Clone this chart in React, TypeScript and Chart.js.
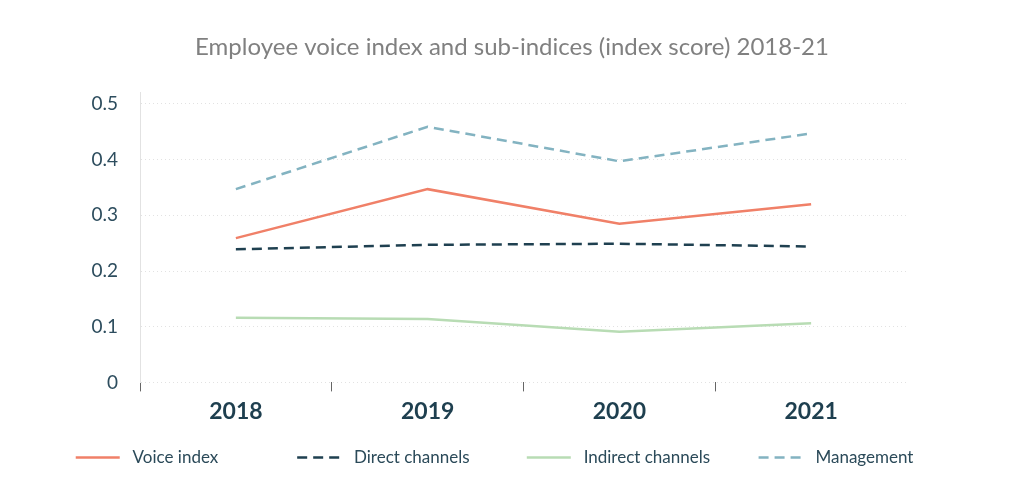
import React, { useEffect, useRef } from "react";
import { Chart, registerables } from "chart.js";

Chart.register(...registerables);

const categories = ["2018", "2019", "2020", "2021"];
const voiceIndex = [0.259, 0.347, 0.285, 0.32];
const directChannels = [0.239, 0.247, 0.249, 0.244];
const indirectChannels = [0.116, 0.114, 0.091, 0.106];
const management = [0.347, 0.459, 0.397, 0.447];
const yTicks = [0, 0.1, 0.2, 0.3, 0.4, 0.5];
const titleText = "Employee voice index and sub-indices (index score) 2018-21";
const legendTrailingSpaces = [14, 9, 7, 8];

export default function App() {
  const ref = useRef<HTMLCanvasElement | null>(null);

  useEffect(() => {
    document.body.style.margin = "0";
    if (!ref.current) return;
    const chart = new Chart(ref.current, {
      type: "line",
      data: {
        labels: categories,
        datasets: [
          {
            label: "Voice index",
            data: voiceIndex,
            borderColor: "#f08068",
            backgroundColor: "#f08068",
            borderWidth: 2.5,
          },
          {
            label: "Direct channels",
            data: directChannels,
            borderColor: "#1f4050",
            backgroundColor: "#1f4050",
            borderWidth: 2.5,
            borderDash: [10, 6],
          },
          {
            label: "Indirect channels",
            data: indirectChannels,
            borderColor: "#b8dcb4",
            backgroundColor: "#b8dcb4",
            borderWidth: 2.5,
          },
          {
            label: "Management",
            data: management,
            borderColor: "#83b3c1",
            backgroundColor: "#83b3c1",
            borderWidth: 2.5,
            borderDash: [10, 6],
          },
        ],
      },
      options: {
        animation: false,
        responsive: false,
        maintainAspectRatio: false,
        elements: {
          line: { tension: 0 },
          point: { radius: 0, hoverRadius: 0 },
        },
        layout: { padding: { left: 0, right: 0, top: 0, bottom: 21 } },
        plugins: {
          title: {
            display: true,
            text: titleText,
            color: "#808080",
            font: { family: "Lato", size: 24, weight: "normal" },
            padding: { top: 33, bottom: 31 },
          },
          legend: {
            position: "bottom",
            align: "center",
            labels: {
              usePointStyle: true,
              pointStyle: "line",
              pointStyleWidth: 44,
              boxHeight: 17,
              padding: 18,
              color: "#2b4a59",
              font: { family: "Lato", size: 17 },
              generateLabels: (c: any) => {
                return c.data.datasets.map((ds: any, i: number) => ({
                  text: " " + ds.label + " ".repeat(legendTrailingSpaces[i]),
                  fillStyle: ds.borderColor,
                  strokeStyle: ds.borderColor,
                  fontColor: "#2b4a59",
                  lineWidth: ds.borderWidth,
                  lineDash: ds.borderDash || [],
                  pointStyle: "line",
                  hidden: !c.isDatasetVisible(i),
                  datasetIndex: i,
                }));
              },
            },
          },
          tooltip: { enabled: false },
        },
        scales: {
          x: {
            type: "category",
            offset: true,
            grid: {
              display: true,
              offset: true,
              drawOnChartArea: false,
              drawTicks: true,
              tickLength: 9,
              tickColor: (ctx: any) =>
                ctx.type === "tick" ? "#666666" : "rgba(0,0,0,0)",
              tickWidth: 1,
            },
            border: { display: false },
            ticks: {
              color: "#1e3f4f",
              padding: 6,
              font: { family: "Lato", size: 23, weight: "bold" },
            },
          },
          y: {
            min: 0,
            max: 0.52,
            afterBuildTicks: (scale: any) => {
              scale.ticks = yTicks.map((v) => ({ value: v }));
            },
            afterFit: (scale: any) => {
              scale.width = 140;
            },
            grid: {
              color: "#e2e2e2",
              lineWidth: 1,
              drawTicks: false,
            },
            border: { display: true, color: "#e2e2e2", dash: [1, 3] },
            ticks: {
              padding: 22,
              color: "#2d4d5e",
              font: { family: "Lato", size: 19 },
              callback: (v: any) => (Number(v) === 0 ? "0" : Number(v).toFixed(1)),
            },
          },
          yRightSpace: {
            type: "linear",
            position: "right",
            min: 0,
            max: 1,
            display: true,
            grid: { display: false, drawTicks: false },
            border: { display: false },
            ticks: { display: false },
            afterFit: (scale: any) => {
              scale.width = 117;
            },
          },
        },
      },
    });
    return () => chart.destroy();
  }, []);

  return (
    <div style={{ width: 1024, height: 497 }}>
      <canvas ref={ref} width={1024} height={497} style={{ width: 1024, height: 497, display: "block" }} />
    </div>
  );
}
